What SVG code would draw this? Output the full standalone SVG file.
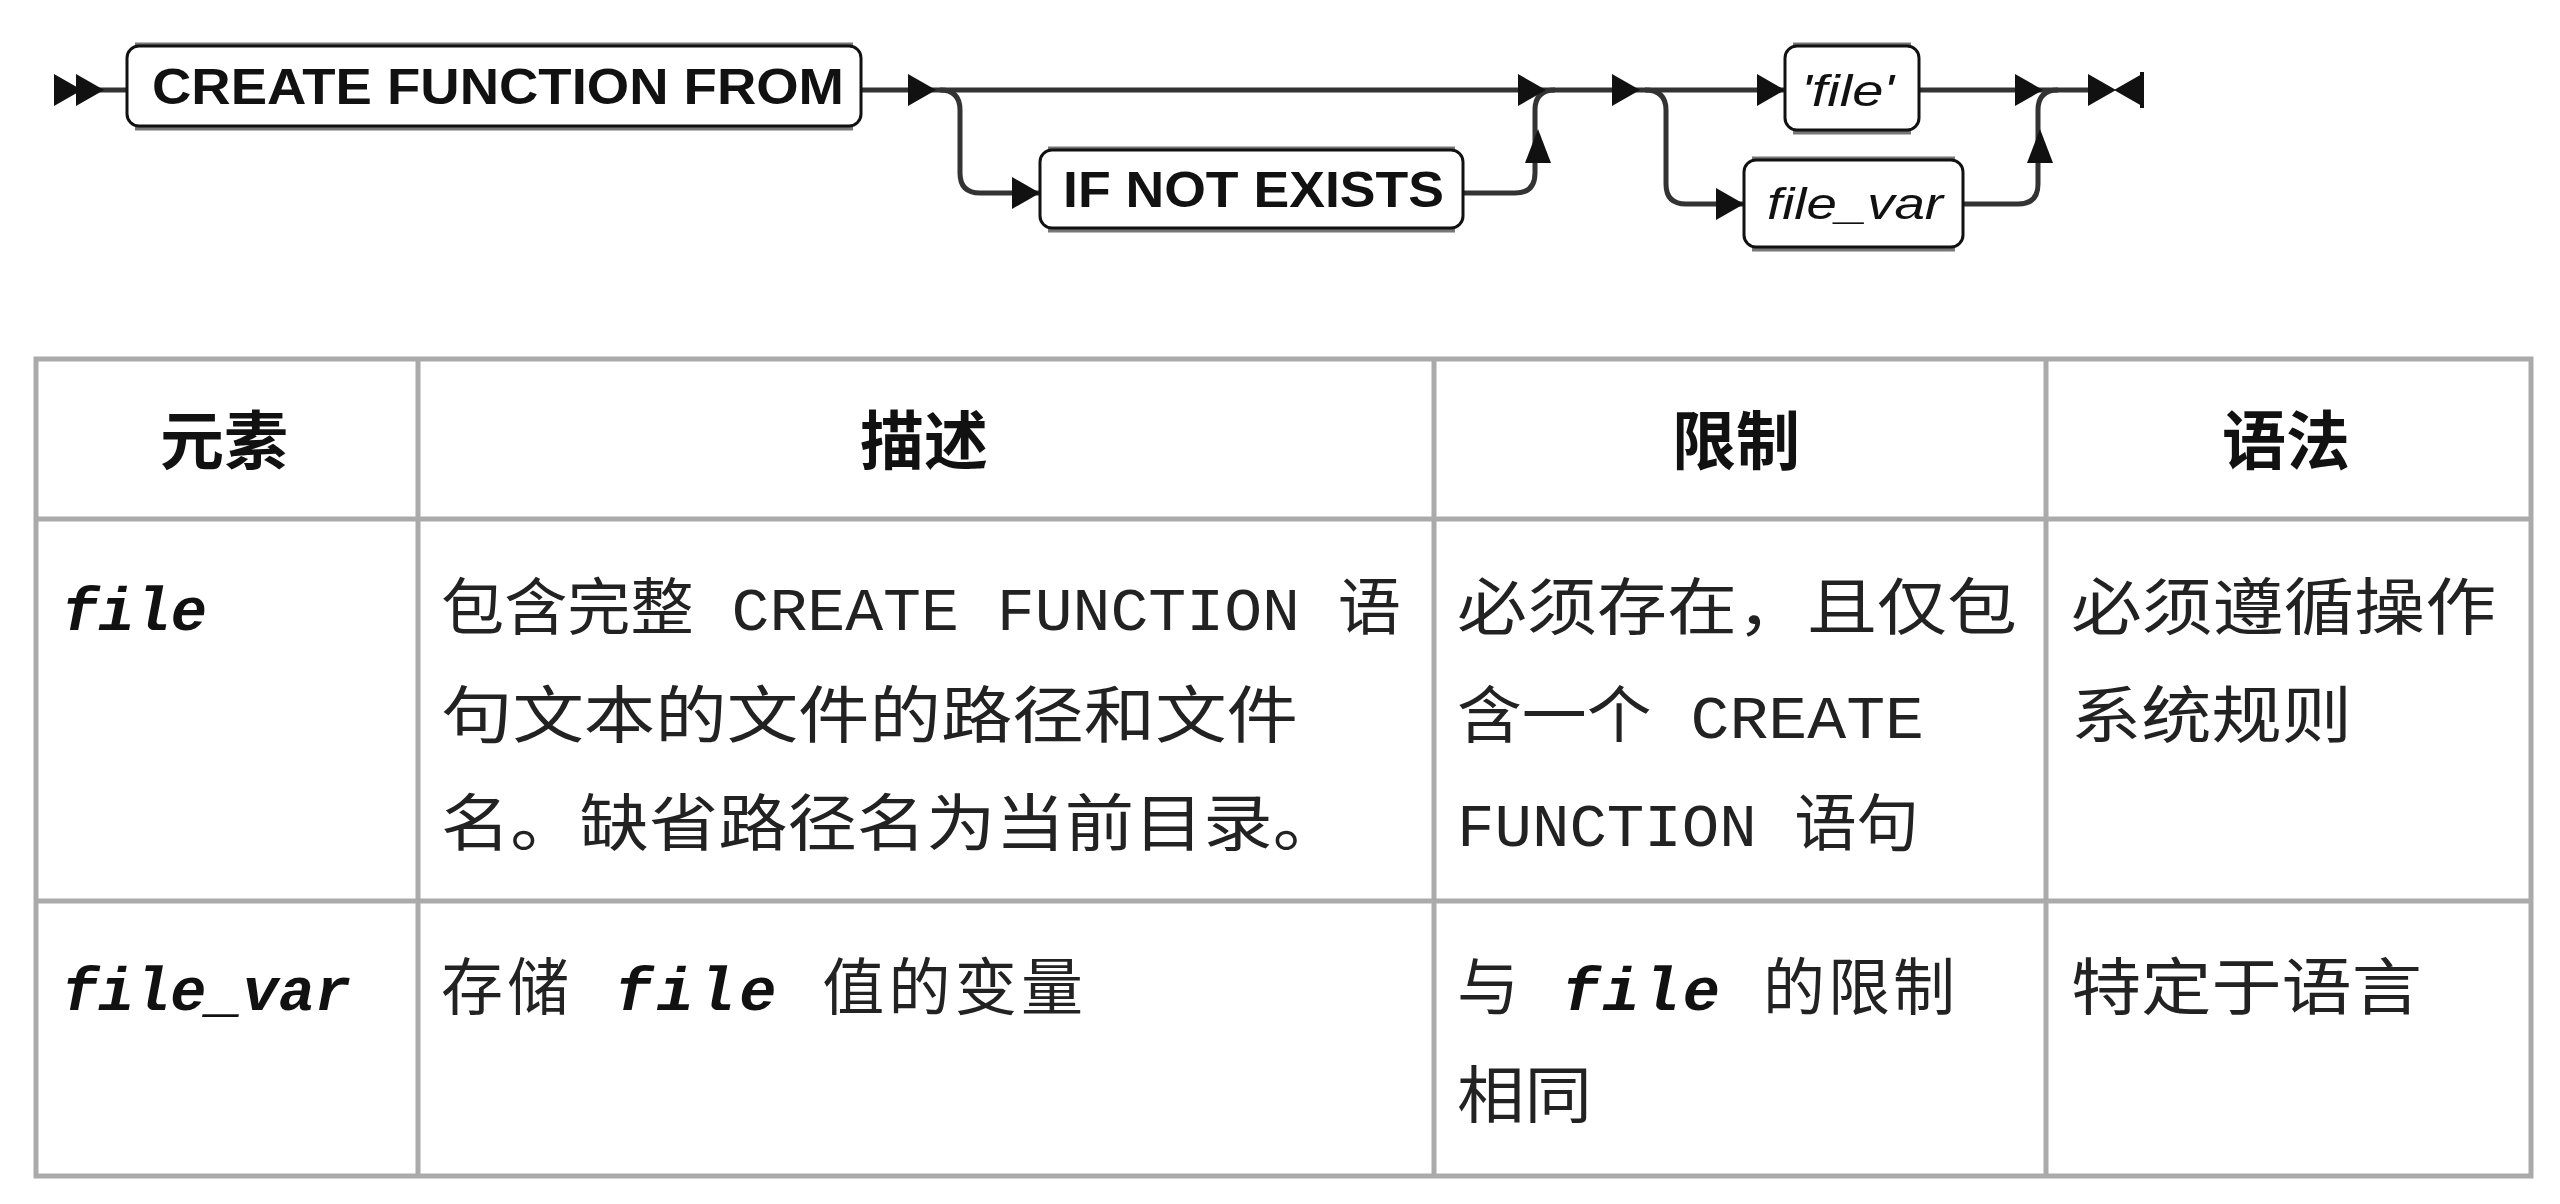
<svg xmlns="http://www.w3.org/2000/svg" width="2560" height="1204" viewBox="0 0 2560 1204">
<style>
.box{fill:#fff;stroke:#111;stroke-width:3}
.sh{fill:none;stroke:#777;stroke-width:7}
.ln{fill:none;stroke:#333;stroke-width:5}
.kw{font-family:"Liberation Sans",Arial,sans-serif;font-weight:bold;font-size:50px;fill:#111}
.it{font-family:"Liberation Sans",Arial,sans-serif;font-style:italic;font-size:44px;fill:#111}
.hd{font-family:"Noto Sans CJK SC",sans-serif;font-weight:bold;font-size:64px;fill:#111;text-anchor:middle}
.tx{font-family:"Liberation Mono","Noto Sans CJK SC",monospace;font-size:62px;fill:#222}
.iv{font-family:"Liberation Mono",monospace;font-style:italic;font-weight:bold;font-size:62px;fill:#111}
.grid{stroke:#aaa;stroke-width:5;fill:none}
</style>
<defs>
<path id="ar" d="M0,-16 L28,0 L0,16 Z" fill="#111"/>
<path id="au" d="M-13,0 L0,-34 L13,0 Z" fill="#111"/>
</defs>
<g id="connectors">
<path class="ln" d="M54 90 H127 M861 90 H1785 M1919 90 H2090"/>
<path class="ln" d="M940 90 Q960 90 960 110 V173 Q960 193 980 193 H1040"/>
<path class="ln" d="M1463 193 H1515 Q1535 193 1535 173 V110 Q1535 90 1555 90"/>
<path class="ln" d="M1645 90 Q1666 90 1666 110 V184 Q1666 204 1686 204 H1744"/>
<path class="ln" d="M1963 204 H2018 Q2038 204 2038 184 V110 Q2038 90 2058 90"/>
<use href="#ar" x="54" y="90"/><use href="#ar" x="76" y="90"/>
<use href="#ar" x="908" y="90"/>
<use href="#ar" x="1012" y="193"/>
<use href="#ar" x="1518" y="90"/>
<use href="#au" x="1538" y="163"/>
<use href="#ar" x="1612" y="90"/>
<use href="#ar" x="1757" y="90"/>
<use href="#ar" x="1716" y="204"/>
<use href="#ar" x="2015" y="90"/>
<use href="#au" x="2040" y="163"/>
<use href="#ar" x="2088" y="90"/>
<path d="M2142,-16 L2114,0 L2142,16 Z" transform="translate(0,90)" fill="#111"/>
<path d="M2142 72 V108" stroke="#111" stroke-width="4"/>
</g>
<g id="n-create">
<path class="sh" d="M135 46 H853 M135 127 H853"/>
<rect class="box" x="127" y="46" width="734" height="80" rx="12"/>
<text class="kw" x="152" y="104" textLength="692" lengthAdjust="spacingAndGlyphs">CREATE FUNCTION FROM</text>
</g>
<g id="n-ifnot">
<path class="sh" d="M1048 150 H1455 M1048 229 H1455"/>
<rect class="box" x="1040" y="150" width="423" height="78" rx="12"/>
<text class="kw" x="1063" y="207" textLength="381" lengthAdjust="spacingAndGlyphs">IF NOT EXISTS</text>
</g>
<g id="n-file">
<path class="sh" d="M1793 46 H1911 M1793 131 H1911"/>
<rect class="box" x="1785" y="46" width="134" height="84" rx="12"/>
<text class="it" x="1801" y="106" textLength="93" lengthAdjust="spacingAndGlyphs">'file'</text>
</g>
<g id="n-filevar">
<path class="sh" d="M1752 160 H1955 M1752 248 H1955"/>
<rect class="box" x="1744" y="160" width="219" height="87" rx="12"/>
<text class="it" x="1767" y="219" textLength="176" lengthAdjust="spacingAndGlyphs">file_var</text>
</g>
<g id="table">
<rect class="grid" x="36" y="359" width="2495" height="817"/>
<path class="grid" d="M36 519 H2531 M36 901 H2531 M418 359 V1176 M1434 359 V1176 M2046 359 V1176"/>
<text class="hd" x="224" y="464">元素</text>
<text class="hd" x="924" y="464">描述</text>
<text class="hd" x="1736" y="464">限制</text>
<text class="hd" x="2286" y="464">语法</text>
<text class="iv" x="62" y="630" textLength="145" lengthAdjust="spacingAndGlyphs">file</text>
<text class="tx" x="441" y="630" textLength="960" lengthAdjust="spacingAndGlyphs">包含完整 CREATE FUNCTION 语</text>
<text class="tx" x="441" y="738" textLength="857" lengthAdjust="spacingAndGlyphs">句文本的文件的路径和文件</text>
<text class="tx" x="441" y="846" textLength="901" lengthAdjust="spacingAndGlyphs">名。缺省路径名为当前目录。</text>
<text class="tx" x="1457" y="630" textLength="560" lengthAdjust="spacingAndGlyphs">必须存在，且仅包</text>
<text class="tx" x="1457" y="738" textLength="467" lengthAdjust="spacingAndGlyphs">含一个 CREATE</text>
<text class="tx" x="1457" y="846" textLength="462" lengthAdjust="spacingAndGlyphs">FUNCTION 语句</text>
<text class="tx" x="2071" y="630" textLength="425" lengthAdjust="spacingAndGlyphs">必须遵循操作</text>
<text class="tx" x="2071" y="738" textLength="281" lengthAdjust="spacingAndGlyphs">系统规则</text>
<text class="iv" x="62" y="1010" textLength="289" lengthAdjust="spacingAndGlyphs">file_var</text>
<text class="tx" x="441" y="1010" textLength="642" lengthAdjust="spacing">存储 <tspan class="iv">file</tspan> 值的变量</text>
<text class="tx" x="1457" y="1010" textLength="498" lengthAdjust="spacing">与 <tspan class="iv">file</tspan> 的限制</text>
<text class="tx" x="1457" y="1118" textLength="135" lengthAdjust="spacingAndGlyphs">相同</text>
<text class="tx" x="2071" y="1010" textLength="351" lengthAdjust="spacingAndGlyphs">特定于语言</text>
</g>
</svg>
